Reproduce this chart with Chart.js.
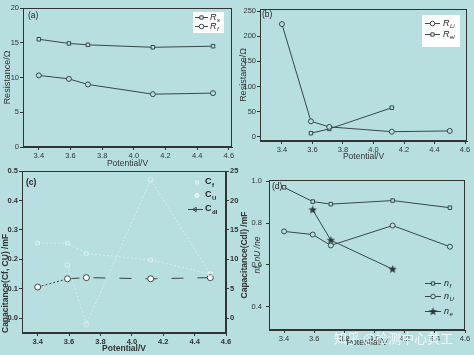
<!DOCTYPE html>
<html><head><meta charset="utf-8">
<script src="https://cdn.jsdelivr.net/npm/chart.js@4.4.1/dist/chart.umd.min.js"></script>
<style>
html,body{margin:0;padding:0;width:474px;height:355px;overflow:hidden;background:#b7dfe0;}
canvas{position:absolute;}
#wm{position:absolute;left:334px;top:330px;font:13px "Noto Sans CJK SC",sans-serif;color:rgba(255,255,255,0.8);white-space:nowrap;line-height:15px;}
</style></head>
<body>
<canvas id="ca" width="237" height="175" style="left:0;top:0"></canvas>
<canvas id="cb" width="237" height="175" style="left:237px;top:0"></canvas>
<canvas id="cc" width="250" height="190" style="left:0;top:165px"></canvas>
<canvas id="cd" width="237" height="185" style="left:237px;top:170px"></canvas>
<div id="wm">知乎 @检测中心黄工</div>
<script>
// ---- data ----
const potentials = [3.4, 3.59, 3.71, 4.12, 4.5];
const rS  = [15.5, 14.9, 14.7, 14.35, 14.5];
const rF  = [10.3, 9.8, 9.0, 7.6, 7.75];
const rLi = [224, 31, 20, 10.5, 12];
const rEl = [null, 7.5, 16, 58, null];
const cF  = [0.255, 0.255, 0.22, 0.198, 0.15];
const cU  = [null, 0.18, -0.02, 0.47, 0.15];
const cDl = [5.3, 6.7, 6.9, 6.7, 6.9];
const nF  = [0.97, 0.902, 0.89, 0.907, 0.873];
const nU  = [0.76, 0.745, 0.693, 0.788, 0.687];
const nE  = [null, 0.863, 0.718, 0.58, null];
// ---- tick labels ----
const xTicks   = [3.4, 3.6, 3.8, 4.0, 4.2, 4.4, 4.6];
const aYTicks  = [0, 5, 10, 15, 20];
const bYTicks  = [0, 50, 100, 150, 200, 250];
const cYTicksL = [0.0, 0.1, 0.2, 0.3, 0.4, 0.5];
const cYTicksR = [0, 5, 10, 15, 20, 25];
const dYTicks  = [0.4, 0.6, 0.8, 1.0];

Chart.defaults.font.family = '"Liberation Sans", Arial, sans-serif';
Chart.defaults.color = '#333';
Chart.defaults.animation = false;

const LINE = '#3a4646';
const BG = '#b7dfe0';
const TICK = 7.5;
const TTL = 8.5;

function pts(ys){ return potentials.map((x,i)=>({x:x,y:ys[i]})).filter(p=>p.y!==null); }

function fixTicks(arr){ return s => { s.ticks = arr.map(v=>({value:v})); }; }
function vFit(w){ return s => { s.width = w; s.paddingTop = 0; s.paddingBottom = 0; }; }
function hFit(h){ return s => { s.height = h; s.paddingLeft = 0; s.paddingRight = 0; }; }

function xAxis(min, max, h, titlePad, bold){
  return {
    type:'linear', position:'bottom', min:min, max:max,
    afterBuildTicks: fixTicks(xTicks), afterFit: hFit(h),
    grid:{drawOnChartArea:false, tickLength:3, color:'#333'},
    border:{color:'#333'},
    ticks:{autoSkip:false, maxRotation:0, padding:1, font:{size:TICK, weight: bold?'bold':'normal'}, callback:v=>v.toFixed(1)},
    title:{display:true, text:'Potential/V', font:{size:TTL, weight: bold?'bold':'normal'}, padding:{top:0, bottom:titlePad}}
  };
}
function yAxis(min, max, w, ticks, dec, title, titlePad, opts){
  opts = opts || {};
  return {
    type:'linear', position: opts.position || 'left', min:min, max:max,
    afterBuildTicks: fixTicks(ticks), afterFit: vFit(w),
    grid:{drawOnChartArea:false, tickLength:3, color:'#333'},
    border:{color:'#333'},
    ticks:{padding: opts.tickPad!==undefined?opts.tickPad:1, font:{size:TICK, weight: opts.bold?'bold':'normal'}, callback:v=>v.toFixed(dec)},
    title:{display: !!title, text:title, align: opts.align || 'center',
           font:{size: opts.tsize || TTL, weight: opts.bold?'bold':'normal', style: opts.italic?'italic':'normal'},
           padding:{top:titlePad, bottom:0}},
    weight: opts.weight || 0
  };
}

const starImg = (function(){
  const c = document.createElement('canvas'); c.width = 9; c.height = 9;
  const g = c.getContext('2d'); g.fillStyle = '#2a3434'; g.beginPath();
  for (let i=0;i<10;i++){
    const r = i%2===0 ? 4.4 : 1.9; const a = -Math.PI/2 + i*Math.PI/5;
    const px = 4.5 + r*Math.cos(a), py = 4.7 + r*Math.sin(a);
    i===0 ? g.moveTo(px,py) : g.lineTo(px,py);
  }
  g.closePath(); g.fill(); return c;
})();

function drawMarker(ctx, style, x, y, r, stroke, fill, rot){
  ctx.save(); ctx.strokeStyle = stroke; ctx.fillStyle = fill; ctx.lineWidth = 1;
  if (style instanceof HTMLCanvasElement){ ctx.drawImage(style, x - style.width/2, y - style.height/2); ctx.restore(); return; }
  Chart.helpers.drawPoint(ctx, {pointStyle:style, radius:r, rotation:rot||0, borderWidth:1}, x, y);
  ctx.restore();
}

const decor = {
  id:'decor',
  afterDraw(chart, args, o){
    const ctx = chart.ctx, a = chart.chartArea;
    ctx.save();
    ctx.strokeStyle = '#333'; ctx.lineWidth = 1;
    ctx.strokeRect(Math.round(a.left)+0.5, Math.round(a.top)+0.5, Math.round(a.right-a.left)-1, Math.round(a.bottom-a.top)-1);
    if (o.tag){ ctx.fillStyle = '#222'; ctx.font = (o.tagBold?'bold ':'') + '8.5px "Liberation Sans", Arial'; ctx.textBaseline='middle'; ctx.textAlign='left'; ctx.fillText(o.tag, o.tagX, o.tagY); }
    if (o.box){ ctx.fillStyle = '#fff'; ctx.fillRect(o.box[0], o.box[1], o.box[2], o.box[3]); }
    (o.items||[]).forEach(it => {
      if (it.x2){
        ctx.strokeStyle = it.lc || LINE; ctx.lineWidth = 1; ctx.beginPath();
        ctx.moveTo(it.x1, it.y+0.5); ctx.lineTo(it.x2, it.y+0.5); ctx.stroke();
      }
      if (it.marker) drawMarker(ctx, it.marker, it.mx, it.y+0.5, it.r||2.3, it.mc||LINE, it.mf||'#fff', it.rot);
      ctx.fillStyle = '#222'; ctx.textBaseline = 'middle'; ctx.textAlign = 'left';
      ctx.font = (it.bold?'bold ':'italic ') + '9px "Liberation Sans", Arial';
      ctx.fillText(it.main, it.tx, it.y);
      const w = ctx.measureText(it.main).width;
      ctx.font = (it.bold?'bold ':'italic ') + '6px "Liberation Sans", Arial';
      ctx.fillText(it.sub, it.tx + w + 0.5, it.y + 3);
    });
    ctx.restore();
  }
};

function lineDs(label, ys, style, fill, axis, extra){
  return Object.assign({
    label: label, data: pts(ys), showLine:true, borderColor: LINE, borderWidth:1,
    pointStyle: style, pointRadius: 2.5, pointBorderWidth:1, pointBorderColor: LINE,
    pointBackgroundColor: fill, yAxisID: axis || 'y', xAxisID:'x'
  }, extra||{});
}

function make(id, datasets, scales, padding, decorOpts){
  return new Chart(document.getElementById(id), {
    type:'scatter',
    data:{datasets: datasets},
    options:{
      responsive:false, animation:false, clip:false,
      layout:{padding: padding},
      plugins:{legend:{display:false}, tooltip:{enabled:false}, decor: decorOpts},
      scales: scales
    },
    plugins:[decor]
  });
}

// (a)
make('ca', [
  lineDs('Rs', rS, 'rect', BG),
  lineDs('Rf', rF, 'circle', BG)
], {
  x: xAxis(3.3, 4.62, 28, 6),
  y: yAxis(0, 20, 23, aYTicks, 0, 'Resistance/\u03A9', 2, {tsize:9})
}, {left:0, right:4, top:8, bottom:0}, {
  tag:'(a)', tagX:28, tagY:16, box:[193,12,31,21],
  items:[
    {x1:195, x2:208, mx:201.5, marker:'rect', mf:'#fff', y:17, tx:210, main:'R', sub:'s'},
    {x1:195, x2:208, mx:201.5, marker:'circle', mf:'#fff', y:26, tx:210, main:'R', sub:'f'}
  ]
});

// (b)
make('cb', [
  lineDs('RLi', rLi, 'circle', BG),
  lineDs('Rel', rEl, 'rect', BG)
], {
  x: xAxis(3.256, 4.613, 34, 13),
  y: yAxis(-8, 254, 23, bYTicks, 0, 'Resistance/\u03A9', 1, {tsize:9})
}, {left:0, right:7, top:9, bottom:0}, {
  tag:'(b)', tagX:25, tagY:15, box:[185,15,38,32],
  items:[
    {x1:188, x2:203, mx:195.5, marker:'circle', mf:'#fff', y:23, tx:206, main:'R', sub:'Li'},
    {x1:188, x2:203, mx:195.5, marker:'rect', mf:'#fff', y:34, tx:206, main:'R', sub:'el'}
  ]
});

// (c)
const faint = 'rgba(255,255,255,0.45)';
make('cc', [
  lineDs('Cf', cF, 'rect', 'rgba(0,0,0,0)', 'y', {borderColor:faint, pointBorderColor:faint, borderDash:[2,2]}),
  lineDs('CU', cU, 'circle', 'rgba(0,0,0,0)', 'y', {borderColor:faint, pointBorderColor:faint, borderDash:[2,2]}),
  lineDs('Cdl', cDl, 'circle', '#fff', 'y2', {pointRadius:3, borderColor:'#3a4444',
     segment:{borderDash: c => c.p0DataIndex===0 ? [2,2] : [12,14]}})
], {
  x: xAxis(3.3, 4.6, 22, 1, true),
  y: yAxis(-0.05, 0.5, 22, cYTicksL, 1, 'Capacitance(Cf, CU) /mF', 1, {bold:true, align:'start'}),
  y2: yAxis(-2.5, 25, 24, cYTicksR, 0, '', 0, {position:'right', bold:true})
}, {left:0, right:0, top:6, bottom:0}, {
  tag:'(c)', tagX:26, tagY:18, tagBold:true,
  items:[
    {mx:197, marker:'rect', mc:'#e8f2f2', mf:'rgba(0,0,0,0)', r:2, y:17, tx:205, main:'C', sub:'f', bold:true},
    {mx:197, marker:'circle', mc:'#f4f8f8', mf:'rgba(255,255,255,0.5)', r:2, y:30, tx:205, main:'C', sub:'U', bold:true},
    {x1:188, x2:203, mx:195, marker:'triangle', rot:-90, mc:LINE, mf:'rgba(0,0,0,0)', r:2.5, y:44, tx:205, main:'C', sub:'dl', bold:true}
  ]
});

// (d)
make('cd', [
  lineDs('nf', nF, 'rect', BG),
  lineDs('nU', nU, 'circle', BG),
  lineDs('ne', nE, starImg, BG, 'y', {pointRadius:4})
], {
  x: xAxis(3.3, 4.6, 25, 7),
  yt: Object.assign(yAxis(0, 1, 13, [], 0, 'Capacitance(Cdl) /mF', 3, {bold:true, weight:1}),
        {ticks:{display:false}, grid:{display:false, drawTicks:false}, border:{display:false}}),
  y: yAxis(0.29, 1.005, 19, dYTicks, 1, 'nf, nU /ne', 3, {italic:true, tickPad:4})
}, {left:0, right:9, top:10, bottom:0}, {
  tag:'(d)', tagX:35, tagY:17,
  items:[
    {x1:188, x2:204, mx:196, marker:'rect', mf:BG, y:113, tx:207, main:'n', sub:'f'},
    {x1:188, x2:204, mx:196, marker:'circle', mf:BG, y:126, tx:207, main:'n', sub:'U'},
    {x1:188, x2:204, mx:196, marker:starImg, y:141, tx:207, main:'n', sub:'e'}
  ]
});
</script>
</body></html>
